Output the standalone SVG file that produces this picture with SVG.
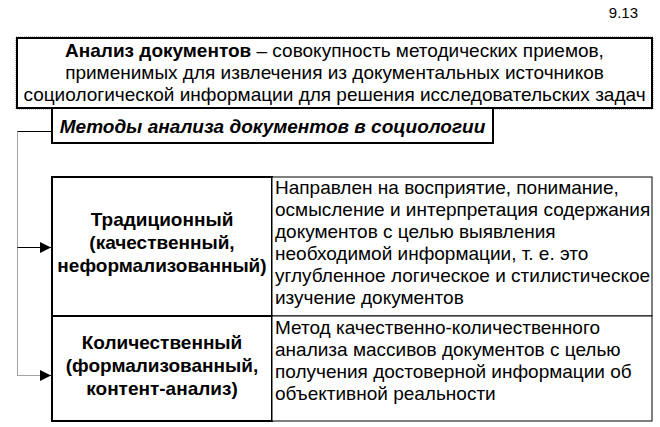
<svg xmlns="http://www.w3.org/2000/svg" width="660" height="427" viewBox="0 0 660 427">
<defs>
<style>
text{font-family:"Liberation Sans",Arial,sans-serif;font-size:19px;fill:#000}
.b{font-weight:bold}
.bi{font-weight:bold;font-style:italic}
.c{text-anchor:middle}
.thick{fill:#fff;stroke:#000;stroke-width:2}
.thin{fill:#fff;stroke:#000;stroke-width:1}
.shadow{fill:none;stroke:#888;stroke-width:1;stroke-dasharray:1 1}
.solid{fill:none;stroke:#000;stroke-width:1}
.dot{fill:none;stroke:#444;stroke-width:1;stroke-dasharray:1 1}
</style>
<marker id="arr" viewBox="0 0 10 10" refX="10" refY="5" markerWidth="11" markerHeight="11" markerUnits="userSpaceOnUse" orient="auto">
<path d="M0,0 L10,5 L0,10 Z" fill="#000"/>
</marker>
</defs>
<rect width="660" height="427" fill="#fff"/>
<text x="638" y="18" style="font-size:15px" text-anchor="end">9.13</text>

<g id="definition">
<rect class="shadow" x="16" y="37" width="637" height="72"/>
<rect class="thick" x="17" y="38" width="635" height="70"/>
<text class="c" x="334.5" y="57"><tspan class="b">Анализ документов</tspan> – совокупность методических приемов,</text>
<text class="c" x="334.5" y="79">применимых для извлечения из документальных источников</text>
<text class="c" x="334.5" y="101">социологической информации для решения исследовательских задач</text>
</g>

<g id="methods">
<rect class="thick" x="52" y="108" width="441" height="35"/>
<text class="bi c" x="272.5" y="133">Методы анализа документов в социологии</text>
</g>

<g id="connectors">
<path class="solid" d="M52,131.5 H17.5"/>
<path class="dot" d="M17.5,131.5 V375.5 H40"/>
<path class="solid" d="M17.5,247.5 H51" marker-end="url(#arr)"/>
<path d="M40,375.5 H51" class="solid" marker-end="url(#arr)"/>
</g>

<g id="traditional">
<rect class="thick" x="52" y="177" width="220" height="139"/>
<text class="b c" x="162" y="226">Традиционный</text>
<text class="b c" x="162" y="249">(качественный,</text>
<text class="b c" x="162" y="272">неформализованный)</text>
</g>
<g id="traditional-desc">
<rect class="thin" x="272" y="177" width="380" height="139"/>
<text x="275" y="194">Направлен на восприятие, понимание,</text>
<text x="275" y="216">осмысление и интерпретация содержания</text>
<text x="275" y="238">документов с целью выявления</text>
<text x="275" y="260">необходимой информации, т. е. это</text>
<text x="275" y="282">углубленное логическое и стилистическое</text>
<text x="275" y="304">изучение документов</text>
</g>

<g id="quantitative">
<rect class="thick" x="52" y="316" width="220" height="105"/>
<text class="b c" x="162" y="349">Количественный</text>
<text class="b c" x="162" y="372">(формализованный,</text>
<text class="b c" x="162" y="395">контент-анализ)</text>
</g>
<g id="quantitative-desc">
<rect class="thin" x="272" y="316" width="380" height="105"/>
<text x="275" y="334">Метод качественно-количественного</text>
<text x="275" y="356">анализа массивов документов с целью</text>
<text x="275" y="378">получения достоверной информации об</text>
<text x="275" y="400">объективной реальности</text>
</g>
</svg>
